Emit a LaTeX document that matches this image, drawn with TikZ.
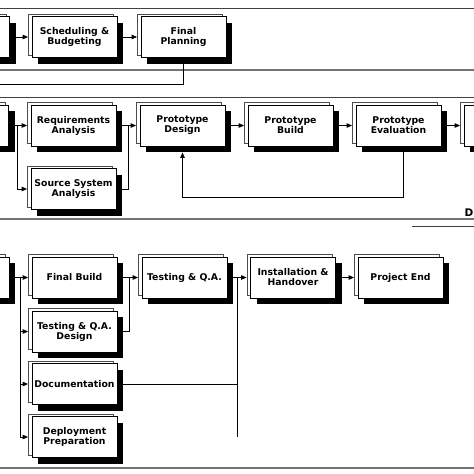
\documentclass[tikz,border=0pt]{standalone}
\usepackage{fontspec}
\setmainfont{DejaVu Sans}
\usetikzlibrary{shadows,arrows.meta}
\begin{document}
\begin{tikzpicture}[x=1pt,y=-1pt,
  stagebox/.style={draw=black, line width=0.8pt, fill=white, minimum width=85pt, minimum height=41pt,
    inner sep=0pt, align=center, font=\fontsize{9.3}{10}\selectfont\bfseries,
    copy shadow={shadow xshift=-3.5pt, shadow yshift=2.5pt, draw=black!70, line width=0.6pt, fill=white},
    drop shadow={shadow xshift=6pt, shadow yshift=-6pt, fill=black, opacity=1}},
  flow/.style={line width=0.8pt, -{Triangle[length=5.5pt,width=4.5pt]}},
  link/.style={line width=0.8pt},
  thinrule/.style={line width=1pt, draw=black!75},
  thickrule/.style={line width=2pt, draw=black!55}]
\useasboundingbox (0,0) rectangle (474,474);
\clip (0,0) rectangle (474,474);
\fill[white] (0,0) rectangle (474,474);

% rules
\draw[thinrule] (0,8) -- (474,8);
\draw[thickrule] (0,69.5) -- (474,69.5);
\draw[thinrule] (0,97) -- (474,97);
\draw[thickrule] (0,219) -- (474,219);
\draw[thinrule] (412,226) -- (474,226);
\draw[thickrule] (0,468) -- (474,468);

% band 1
\node[stagebox] (b1a) at (-33,37) {};
\node[stagebox] (sched) at (74.5,37) {Scheduling \&\\Budgeting};
\node[stagebox] (fplan) at (183.5,37) {Final\\Planning};
\draw[flow] ([xshift=6pt]b1a.east) -- ([xshift=-3.5pt]sched.west);
\draw[flow] ([xshift=6pt]sched.east) -- ([xshift=-3.5pt]fplan.west);
\coordinate (fpout) at (0,84);
\draw[link] ([yshift=-6pt]fplan.south) |- (fpout);

% band 2
\node[stagebox] (b2a) at (-34,125.5) {};
\node[stagebox] (req) at (73.5,125.5) {Requirements\\Analysis};
\node[stagebox] (ssa) at (73.5,189) {Source System\\Analysis};
\node[stagebox] (pdes) at (182.5,125.5) {Prototype\\Design};
\node[stagebox] (pbld) at (290.5,125.5) {Prototype\\Build};
\node[stagebox] (peval) at (398.5,125.5) {Prototype\\Evaluation};
\node[stagebox] (b2z) at (506.5,125.5) {};
\coordinate (j2) at (17,125.5);
\coordinate (j2b) at (128,125.5);
\draw[flow] ([xshift=6pt]b2a.east) -- ([xshift=-3.5pt]req.west);
\draw[flow] (j2) |- ([xshift=-3.5pt]ssa.west);
\draw[flow] ([xshift=6pt]req.east) -- ([xshift=-3.5pt]pdes.west);
\draw[link] ([xshift=6pt]ssa.east) -| (j2b);
\draw[flow] ([xshift=6pt]pdes.east) -- ([xshift=-3.5pt]pbld.west);
\draw[flow] ([xshift=6pt]pbld.east) -- ([xshift=-3.5pt]peval.west);
\draw[flow] ([xshift=6pt]peval.east) -- ([xshift=-3.5pt]b2z.west);
\draw[flow] ([xshift=4.5pt,yshift=-6pt]peval.south) -- ++(0,45) -| ([yshift=-6pt]pdes.south);
\node[anchor=base west, inner sep=0pt, font=\fontsize{10.5}{12}\selectfont\bfseries] (dlabel) at (464.5,216) {D};

% band 3
\node[stagebox] (b3a) at (-33.5,277.5) {};
\node[stagebox] (fbld) at (74.5,277.5) {Final Build};
\node[stagebox] (tqad) at (74.5,331.5) {Testing \& Q.A.\\Design};
\node[stagebox] (doc) at (74.5,384) {Documentation};
\node[stagebox] (dep) at (74.5,437) {Deployment\\Preparation};
\node[stagebox] (tqa) at (184.5,277.5) {Testing \& Q.A.};
\node[stagebox] (inst) at (293,277.5) {Installation \&\\Handover};
\node[stagebox] (pend) at (400.5,277.5) {Project End};
\coordinate (j3) at (20,277.5);
\coordinate (j4) at (129,277.5);
\coordinate (j5) at (237,277.5);
\coordinate (j5end) at (237,437);
\draw[flow] ([xshift=6pt]b3a.east) -- ([xshift=-3.5pt]fbld.west);
\draw[flow] (j3) |- ([xshift=-3.5pt]tqad.west);
\draw[flow] (j3) |- ([xshift=-3.5pt]doc.west);
\draw[flow] (j3) |- ([xshift=-3.5pt]dep.west);
\draw[flow] ([xshift=6pt]fbld.east) -- ([xshift=-3.5pt]tqa.west);
\draw[link] ([xshift=6pt]tqad.east) -| (j4);
\draw[flow] ([xshift=6pt]tqa.east) -- ([xshift=-3.5pt]inst.west);
\draw[link] (j5) -- (j5end);
\draw[link] ([xshift=6pt]doc.east) -- (doc.east -| j5);
\draw[flow] ([xshift=6pt]inst.east) -- ([xshift=-3.5pt]pend.west);
\end{tikzpicture}
\end{document}
